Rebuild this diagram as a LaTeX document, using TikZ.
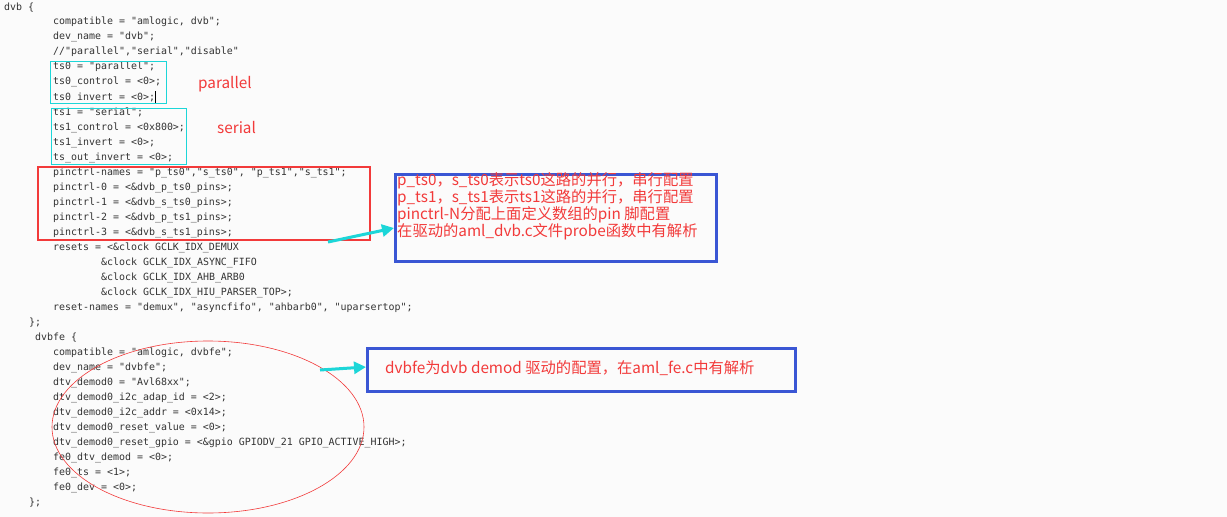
\documentclass[tikz,border=0pt]{standalone}
\usepackage{fontspec}
\setmonofont{DejaVu Sans Mono}
\newfontfamily\cjk{Noto Sans CJK SC}
\usetikzlibrary{arrows.meta}
\definecolor{codec}{HTML}{333333}
\definecolor{redc}{HTML}{F23A3A}
\definecolor{bluec}{HTML}{3A56D4}
\definecolor{cyanc}{HTML}{1CD6D8}
\begin{document}
\begin{tikzpicture}[x=1pt,y=-1pt,
 code/.style={anchor=west,inner sep=0pt,font=\ttfamily\fontsize{9.95}{10}\selectfont,text=codec},
 note/.style={anchor=west,inner sep=0pt,font=\cjk\fontsize{15.3}{16}\selectfont,text=redc},
 cbox/.style={draw=cyanc,line width=1pt},
 arr/.style={draw=cyanc,line width=3pt,-{Triangle[length=12pt,width=12pt]}}]
\fill[white!97!gray] (0,0) rectangle (1227,517);
\useasboundingbox (0,0) rectangle (1227,517);
\node[code] (l0) at (4,8) {dvb \{};
\foreach \t [count=\i] in {
compatible = "amlogic{,} dvb";,
dev\_name = "dvb";,
//"parallel"{,}"serial"{,}"disable",
ts0 = "parallel";,
ts0\_control = <0>;,
ts0 invert = <0>;,
ts1 = "serial";,
ts1\_control = <0x800>;,
ts1\_invert = <0>;,
ts\_out\_invert = <0>;,
pinctrl-names = "p\_ts0"{,}"s\_ts0"{,} "p\_ts1"{,}"s\_ts1";,
pinctrl-0 = <\&dvb\_p\_ts0\_pins>;,
pinctrl-1 = <\&dvb\_s\_ts0\_pins>;,
pinctrl-2 = <\&dvb\_p\_ts1\_pins>;,
pinctrl-3 = <\&dvb\_s\_ts1\_pins>;,
resets = <\&clock GCLK\_IDX\_DEMUX}
  \node[code] (a\i) at (53,{7+15.05*\i}) {\t};
\foreach \t [count=\i from 17] in {
\&clock GCLK\_IDX\_ASYNC\_FIFO,
\&clock GCLK\_IDX\_AHB\_ARB0,
\&clock GCLK\_IDX\_HIU\_PARSER\_TOP>;}
  \node[code] (b\i) at (101,{7+15.05*\i}) {\t};
\node[code] (c1) at (53,308) {reset-names = "demux", "asyncfifo", "ahbarb0", "uparsertop";};
\node[code] (c2) at (29,323) {\};};
\node[code] (c3) at (35,338) {dvbfe \{};
\foreach \t [count=\i] in {
compatible = "amlogic{,} dvbfe";,
dev\_name = "dvbfe";,
dtv\_demod0 = "Avl68xx";,
dtv\_demod0\_i2c\_adap\_id = <2>;,
dtv\_demod0\_i2c\_addr = <0x14>;,
dtv\_demod0\_reset\_value = <0>;,
dtv\_demod0\_reset\_gpio = <\&gpio GPIODV\_21 GPIO\_ACTIVE\_HIGH>;,
fe0\_dtv\_demod = <0>;,
fe0\_ts = <1>;,
fe0\_dev = <0>;}
  \node[code] (d\i) at (53,{338+15*\i}) {\t};
\node[code] (c4) at (29,503) {\};};
\draw[line width=0.8pt] (155,91) -- (155,103);
\draw[cbox] (50,61) rectangle (166,103);
\draw[cbox] (51,108) rectangle (186,164);
\node[note] (par) at (198,84) {parallel};
\node[note] (ser) at (217,128) {serial};
\draw[draw=redc,line width=2.5pt] (38,167) rectangle (370,240);
\coordinate (ra) at (328,242);
\node[draw=bluec,line width=2.5pt,minimum width=321pt,minimum height=87pt,anchor=north west,inner sep=0pt] (nb1) at (394,173) {};
\node[note,align=left,anchor=north west,font=\cjk\fontsize{15.3}{17}\selectfont] (t1) at (397,172)
 {p\_ts0，s\_ts0表示ts0这路的并行，串行配置\\p\_ts1，s\_ts1表示ts1这路的并行，串行配置\\pinctrl-N分配上面定义数组的pin 脚配置\\在驱动的aml\_dvb.c文件probe函数中有解析};
\draw[arr] (ra) -- (nb1.west|-0,228);
\node[draw=bluec,line width=2.5pt,minimum width=428pt,minimum height=43pt,anchor=north west,inner sep=0pt] (nb2) at (366,347) {};
\node[note] (t2) at (385,368) {dvbfe为dvb demod 驱动的配置，在aml\_fe.c中有解析};
\draw[draw=redc,line width=0.6pt] (208,427) ellipse [x radius=156, y radius=86];
\coordinate (ea) at (320,370);
\draw[arr] (ea) -- (nb2.west|-0,367);
\end{tikzpicture}
\end{document}
